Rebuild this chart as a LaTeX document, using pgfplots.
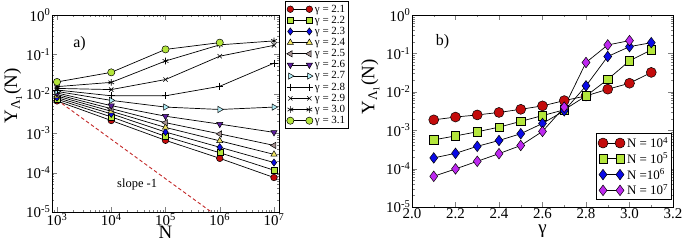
\documentclass[border=0pt]{standalone}
\usepackage{fontspec}
\setmainfont{Liberation Serif}
\usepackage{pgfplots}
\pgfplotsset{compat=1.18}

\definecolor{cred}{RGB}{195,12,12}
\definecolor{clime}{RGB}{180,230,60}
\definecolor{cblue}{RGB}{10,10,230}
\definecolor{cyel}{RGB}{240,228,100}
\definecolor{cgrey}{RGB}{165,145,145}
\definecolor{cind}{RGB}{95,30,160}
\definecolor{ccyan}{RGB}{175,235,245}
\definecolor{cviol}{RGB}{190,40,240}
\definecolor{cslope}{RGB}{195,40,40}

\begin{document}
\begin{tikzpicture}
\useasboundingbox (0,0) rectangle (685bp,242bp);

% ---------------- panel a ----------------
\begin{axis}[
  scale only axis,
  axis line style={line width=0.8bp},
  major tick length=5bp, minor tick length=2.5bp,
  tick align=inside,
  tick label style={font=\fontsize{15}{15}\selectfont, inner sep=1.5pt},
  label style={font=\fontsize{19}{19}\selectfont, inner sep=0pt},
  ymode=log, ymin=1e-5, ymax=1,
  yticklabel={10\textsuperscript{\pgfmathtruncatemacro\ex{round(\tick/2.302585093)}\ex}},
  ylabel={Y\textsubscript{Λ\textsubscript{1}}(N)},
  at={(52bp,30bp)}, anchor=south west,
  width=227bp, height=197bp,
  xmode=log, xmin=809, xmax=1.236e7,
  xticklabel={10\textsuperscript{\pgfmathtruncatemacro\ex{round(\tick/2.302585093)}\ex}},
  xlabel={N},
  xlabel style={at={(axis description cs:0.5,-0.135)}, anchor=base},
  ylabel style={at={(axis description cs:-0.172,0.59)}, anchor=center},
  legend style={at={(axis description cs:1.026,1.071)}, anchor=north west,
    font=\fontsize{11}{11}\selectfont, draw=black, line width=0.7bp,
    row sep=-1.6pt, inner sep=1.5pt},
  legend cell align=left,
  legend image code/.code={\draw[#1] plot coordinates {(0bp,0bp) (19bp,0bp)};},
]
\addplot[black, line width=0.7bp, mark=*, mark size=3.3bp, mark options={fill=cred, draw=black, line width=0.5bp}]
 coordinates {(1e3,0.0066) (1e4,0.0021) (1e5,6.6e-4) (1e6,2.3e-4) (1e7,7.5e-5)};
\addlegendentry{γ = 2.1}
\addplot[black, line width=0.7bp, mark=square*, mark size=3bp, mark options={fill=clime, draw=black, line width=0.5bp}]
 coordinates {(1e3,0.0073) (1e4,0.0026) (1e5,8.3e-4) (1e6,3.2e-4) (1e7,1.15e-4)};
\addlegendentry{γ = 2.2}
\addplot[black, line width=0.7bp, mark=diamond*, mark size=3.6bp, mark options={fill=cblue, draw=black, line width=0.5bp}]
 coordinates {(1e3,0.0080) (1e4,0.0031) (1e5,1.07e-3) (1e6,4.4e-4) (1e7,1.8e-4)};
\addlegendentry{γ = 2.3}
\addplot[black, line width=0.7bp, mark=triangle*, mark size=3.6bp, mark options={fill=cyel, draw=black, line width=0.5bp}]
 coordinates {(1e3,0.0088) (1e4,0.0036) (1e5,1.4e-3) (1e6,6.4e-4) (1e7,2.9e-4)};
\addlegendentry{γ = 2.4}
\addplot[black, line width=0.7bp, mark=triangle*, mark size=3.6bp, mark options={rotate=90, fill=cgrey, draw=black, line width=0.5bp}]
 coordinates {(1e3,0.0096) (1e4,0.0042) (1e5,1.85e-3) (1e6,9.6e-4) (1e7,4.9e-4)};
\addlegendentry{γ = 2.5}
\addplot[black, line width=0.7bp, mark=triangle*, mark size=3.6bp, mark options={rotate=180, fill=cind, draw=black, line width=0.5bp}]
 coordinates {(1e3,0.0105) (1e4,0.0050) (1e5,2.7e-3) (1e6,1.7e-3) (1e7,1.05e-3)};
\addlegendentry{γ = 2.6}
\addplot[black, line width=0.7bp, mark=triangle*, mark size=3.6bp, mark options={rotate=-90, fill=ccyan, draw=black, line width=0.5bp}]
 coordinates {(1e3,0.0115) (1e4,0.0068) (1e5,4.6e-3) (1e6,4.0e-3) (1e7,4.6e-3)};
\addlegendentry{γ = 2.7}
\addplot[black, line width=0.7bp, mark=+, mark size=3.6bp, mark options={draw=black, line width=0.6bp}]
 coordinates {(1e3,0.0125) (1e4,0.0089) (1e5,0.0089) (1e6,0.0155) (1e7,0.060)};
\addlegendentry{γ = 2.8}
\addplot[black, line width=0.7bp, mark=x, mark size=3bp, mark options={draw=black, line width=0.6bp}]
 coordinates {(1e3,0.0137) (1e4,0.0128) (1e5,0.023) (1e6,0.090) (1e7,0.170)};
\addlegendentry{γ = 2.9}
\addplot[black, line width=0.7bp, mark=asterisk, mark size=3.3bp, mark options={draw=black, line width=0.6bp}]
 coordinates {(1e3,0.0152) (1e4,0.0195) (1e5,0.068) (1e6,0.175) (1e7,0.220)};
\addlegendentry{γ = 3.0}
\addplot[black, line width=0.7bp, mark=*, mark size=3.6bp, mark options={fill=clime, draw=black, line width=0.5bp}]
 coordinates {(1e3,0.0200) (1e4,0.035) (1e5,0.134) (1e6,0.199)};
\addlegendentry{γ = 3.1}
\addplot[cslope, line width=0.9bp, dash pattern=on 3.5bp off 2.5bp, forget plot]
 coordinates {(1e3,0.007) (7e5,1e-5)};
\node[font=\fontsize{16}{16}\selectfont] at (axis cs:2600,0.19) {a)};
\node[font=\fontsize{12.5}{12.5}\selectfont] at (axis cs:3e4,4.9e-5) {slope -1};
\end{axis}

% ---------------- panel b ----------------
\begin{axis}[
  scale only axis,
  axis line style={line width=0.8bp},
  major tick length=5bp, minor tick length=2.5bp,
  tick align=inside,
  tick label style={font=\fontsize{15}{15}\selectfont, inner sep=1.5pt},
  label style={font=\fontsize{19}{19}\selectfont, inner sep=0pt},
  ymode=log, ymin=1e-5, ymax=1,
  yticklabel={10\textsuperscript{\pgfmathtruncatemacro\ex{round(\tick/2.302585093)}\ex}},
  ylabel={Y\textsubscript{Λ\textsubscript{1}}(N)},
  at={(412bp,35bp)}, anchor=south west,
  width=261bp, height=192bp,
  xmin=2.0, xmax=3.2,
  xtick={2.0,2.2,2.4,2.6,2.8,3.0,3.2},
  minor x tick num=1,
  xticklabels={2.0,2.2,2.4,2.6,2.8,3.0,3.2},
  xlabel={γ},
  xlabel style={at={(axis description cs:0.5,-0.14)}, anchor=base},
  ylabel style={at={(axis description cs:-0.16,0.625)}, anchor=center},
  legend style={at={(axis description cs:0.996,0.036)}, anchor=south east,
    font=\fontsize{13}{13}\selectfont, draw=black, line width=0.7bp,
    row sep=0pt, inner sep=1.5pt},
  legend cell align=left,
  legend image code/.code={\draw[#1] plot coordinates {(0bp,0bp) (17bp,0bp)};},
]
\addplot[black, line width=0.7bp, mark=*, mark size=5bp, mark options={fill=cred, draw=black, line width=0.5bp}]
 coordinates {(2.1,0.00186) (2.2,0.0022) (2.3,0.0025) (2.4,0.0029) (2.5,0.0035) (2.6,0.0043) (2.7,0.0059) (2.8,0.0078) (2.9,0.0117) (3.0,0.0167) (3.1,0.032)};
\addlegendentry{N = 10\textsuperscript{4}}
\addplot[black, line width=0.7bp, mark=square*, mark size=4.2bp, mark options={fill=clime, draw=black, line width=0.5bp}]
 coordinates {(2.1,5.6e-4) (2.2,7.1e-4) (2.3,9.1e-4) (2.4,0.0012) (2.5,0.0017) (2.6,0.0024) (2.7,0.0034) (2.8,0.0078) (2.9,0.021) (3.0,0.064) (3.1,0.123)};
\addlegendentry{N = 10\textsuperscript{5}}
\addplot[black, line width=0.7bp, mark=diamond*, mark size=5.3bp, mark options={fill=cblue, draw=black, line width=0.5bp}]
 coordinates {(2.1,1.9e-4) (2.2,2.5e-4) (2.3,3.8e-4) (2.4,5.4e-4) (2.5,8.1e-4) (2.6,0.0015) (2.7,0.0032) (2.8,0.0143) (2.9,0.083) (3.0,0.15) (3.1,0.19)};
\addlegendentry{N =10\textsuperscript{6}}
\addplot[black, line width=0.7bp, mark=diamond*, mark size=5.3bp, mark options={fill=cviol, draw=black, line width=0.5bp}]
 coordinates {(2.1,6.3e-5) (2.2,9.8e-5) (2.3,1.55e-4) (2.4,2.45e-4) (2.5,4.0e-4) (2.6,9.3e-4) (2.7,0.0040) (2.8,0.058) (2.9,0.166) (3.0,0.215)};
\addlegendentry{N = 10\textsuperscript{7}}
\node[font=\fontsize{16}{16}\selectfont] at (axis cs:2.14,0.2) {b)};
\end{axis}
\end{tikzpicture}
\end{document}
